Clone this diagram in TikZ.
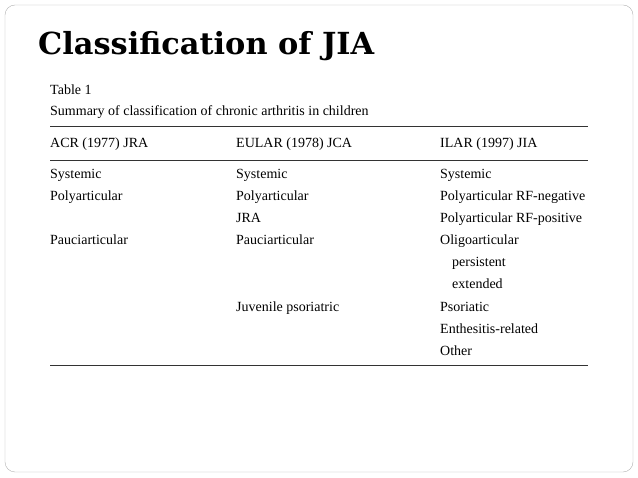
\documentclass[tikz,border=0pt]{standalone}
\usepackage{fontspec}
\setmainfont{Liberation Serif}
\newfontfamily\titlefont{DejaVu Serif}
\begin{document}
\begin{tikzpicture}[x=1pt,y=-1pt,
  cell/.style={anchor=base west,inner sep=0pt,font=\fontsize{14}{16}\selectfont},
  rule/.style={line width=1pt,black!80}]
\useasboundingbox (0,0) rectangle (638,478);
\draw[gray!60,rounded corners=10pt] (5,5) rectangle (633,472);
\node[anchor=base west,inner sep=0pt] (title) at (38,55) {\resizebox{336pt}{!}{\titlefont\bfseries\fontsize{24}{28}\selectfont Classification of JIA}};
\node[cell] (t1) at (50,95) {Table 1};
\node[cell] (t2) at (50,116) {Summary of classification of chronic arthritis in children};
\coordinate (r1a) at (50,127); \coordinate (r1b) at (588,127);
\coordinate (r2a) at (50,160); \coordinate (r2b) at (588,160);
\coordinate (r3a) at (50,366); \coordinate (r3b) at (588,366);
\draw[rule] (r1a) -- (r1b);
\draw[rule,line width=0.6pt] (r2a) -- (r2b);
\draw[rule] (r3a) -- (r3b);
\node[cell] (h1) at (50,148) {ACR (1977) JRA};
\node[cell] (h2) at (236,148) {EULAR (1978) JCA};
\node[cell] (h3) at (440,148) {ILAR (1997) JIA};
\node[cell] (a1) at (50,179) {Systemic};
\node[cell] (a2) at (50,201) {Polyarticular};
\node[cell] (a3) at (50,245) {Pauciarticular};
\node[cell] (b1) at (236,179) {Systemic};
\node[cell] (b2) at (236,201) {Polyarticular};
\node[cell] (b3) at (236,223) {JRA};
\node[cell] (b4) at (236,245) {Pauciarticular};
\node[cell] (b5) at (236,312) {Juvenile psoriatric};
\node[cell] (c1) at (440,179) {Systemic};
\node[cell] (c2) at (440,201) {Polyarticular RF-negative};
\node[cell] (c3) at (440,223) {Polyarticular RF-positive};
\node[cell] (c4) at (440,245) {Oligoarticular};
\node[cell] (c5) at (452,267) {persistent};
\node[cell] (c6) at (452,289) {extended};
\node[cell] (c7) at (440,312) {Psoriatic};
\node[cell] (c8) at (440,334) {Enthesitis-related};
\node[cell] (c9) at (440,356) {Other};
\end{tikzpicture}
\end{document}
